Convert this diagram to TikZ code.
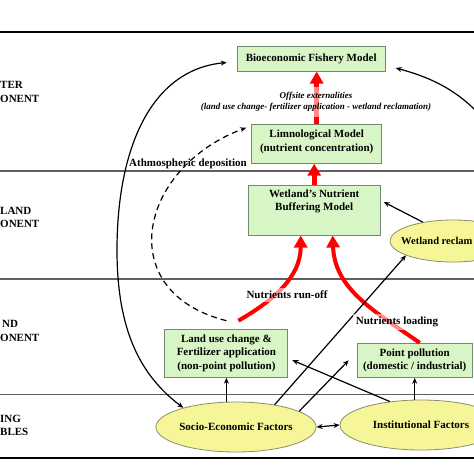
\documentclass[tikz,border=0pt]{standalone}
\usepackage{fontspec}
\setmainfont{Liberation Serif}
\usepackage{xcolor}
\usetikzlibrary{shapes.geometric,arrows.meta}

\definecolor{boxgreen}{RGB}{216,245,198}
\definecolor{boxline}{RGB}{112,140,112}
\definecolor{factorfill}{RGB}{246,246,152}
\definecolor{factorline}{RGB}{140,140,112}
\definecolor{sepgray}{RGB}{95,95,95}

\tikzset{
  modelbox/.style={draw=boxline, fill=boxgreen, line width=1pt, align=center,
    inner sep=2pt, font=\fontsize{11}{13.3}\selectfont\bfseries},
  factor/.style={ellipse, draw=factorline, fill=factorfill, line width=0.8pt,
    inner sep=0pt, font=\fontsize{11}{13.3}\selectfont\bfseries},
  flow/.style={red, line width=4pt, -{Triangle[width=13pt,length=12pt]}},
  link/.style={line width=1.2pt, -{Stealth[length=6pt,width=5pt]}},
  tag/.style={font=\fontsize{11}{13.3}\selectfont\bfseries},
  veil/.style={fill=white, fill opacity=0.55, text opacity=1},
  layer/.style={anchor=west, align=left, inner xsep=0pt, font=\fontsize{11}{13.6}\selectfont\bfseries},
}

\begin{document}
\begin{tikzpicture}[x=1pt,y=-1pt]
  \useasboundingbox (0,0) rectangle (474,474);
  \clip (0,0) rectangle (474,474);

  % layer separators
  \draw[line width=2pt] (0,31.5) -- (474,31.5);
  \draw[line width=1.3pt,sepgray] (0,171) -- (474,171);
  \draw[line width=1.3pt,sepgray] (0,279) -- (474,279);
  \draw[line width=1.3pt,sepgray] (0,394.5) -- (474,394.5);
  \draw[line width=2pt] (0,458) -- (474,458);

  % layer names
  \node[layer] (water) at (0,92) {TER\\ONENT};
  \node[layer] (wetlandc) at (0,217.5) {LAND\\ONENT};
  \node[layer] (landc) at (0,331) {\hspace{2pt}ND\\ONENT};
  \node[layer] (driving) at (0,425.5) {ING\\BLES};

  % models
  \node[modelbox, minimum width=148pt, minimum height=25pt] (bio) at (311.2,58.5) {Bioeconomic Fishery Model};
  \node[modelbox, minimum width=130pt, minimum height=39pt, text depth=6pt] (limn) at (316.7,143.7) {Limnological Model\\(nutrient concentration)};
  \node[modelbox, minimum width=132pt, minimum height=50pt, text depth=19pt] (wet) at (314.2,210) {Wetland's Nutrient\\Buffering Model};
  \node[modelbox, minimum width=123pt, minimum height=48pt] (land) at (226.4,353.2) {Land use change \&\\Fertilizer application\\(non-point pollution)};
  \node[modelbox, minimum width=115pt, minimum height=34pt] (point) at (414.7,360.3) {Point pollution\\(domestic / industrial)};

  % factors
  \node[factor, minimum width=158pt, minimum height=50pt] (socio) at (236,427) {Socio-Economic Factors};
  \node[factor, minimum width=162pt, minimum height=50pt] (inst) at (421,425) {Institutional Factors};
  \node[factor, minimum width=126pt, minimum height=42pt] (recl) at (453,241) {};
  \node[tag, anchor=west, inner xsep=0pt, font=\fontsize{10.5}{12.6}\selectfont\bfseries] (recltext) at (401,241) {Wetland reclam};
  \coordinate (offright) at (500,140);

  % nutrient flows
  \draw[flow, line width=5pt] (limn.north) -- (limn.north |- bio.south);
  \draw[flow, line width=5pt] (wet.north) -- (wet.north |- limn.south);
  \draw[flow] ([xshift=12pt,yshift=8pt]land.north) to[out=30,in=-90] ([xshift=-13.5pt]wet.south);
  \draw[flow] ([xshift=5pt]point.north) to[out=145,in=-88] ([xshift=18.5pt]wet.south);

  % drivers
  \draw[link] (land.south |- socio.north) -- (land.south);
  \draw[link] (point.south |- inst.north) -- (point.south);
  \draw[link] (inst.143) -- ([xshift=4pt,yshift=-7pt]land.east);
  \draw[link] (socio.14) -- ([xshift=-8pt]point.west);
  \draw[link] (socio.30) -- (recl.197);
  \draw[link] (recl.148) -- ([xshift=3pt,yshift=8pt]wet.east);
  \draw[link, dash pattern=on 6pt off 4pt] ([yshift=8pt]land.north) .. controls (112,292) and (138,168) .. ([xshift=-5pt,yshift=-4pt]limn.north west);
  \draw[link, {Stealth[length=6pt,width=5pt]}-{Stealth[length=6pt,width=5pt]}] (socio.160) .. controls (140,375) and (117,330) .. (117,250) .. controls (117,150) and (150,70) .. ([xshift=-10pt,yshift=-4pt]bio.west);
  \draw[link] (offright) to[out=125,in=-15] ([xshift=10pt,yshift=-9.5pt]bio.east);
  \draw[link, {Stealth[length=6pt,width=5pt]}-{Stealth[length=6pt,width=5pt]}] (socio.east) -- (inst.west);

  % labels
  \node[tag] (atmo) at (188,164) {Athmospheric deposition};
  \node[tag, veil] (runoff) at (287,295) {Nutrients run-off};
  \node[tag, veil] (loading) at (397,322) {Nutrients loading};
  \node[veil, align=center, inner ysep=6pt, font=\fontsize{9}{10.5}\selectfont\bfseries\itshape] (offsite) at (316,102) {Offsite externalities\\(land use change- fertilizer application - wetland reclamation)};
\end{tikzpicture}
\end{document}
